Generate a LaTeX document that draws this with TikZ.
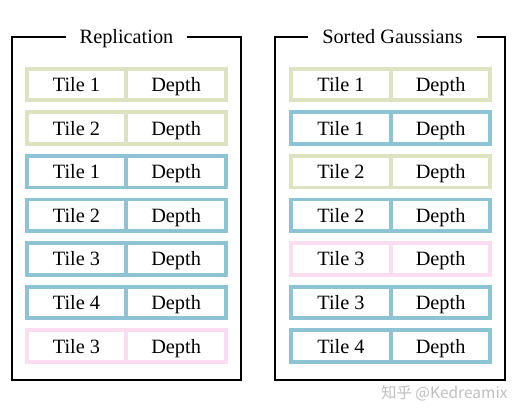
\documentclass[tikz,border=0pt]{standalone}
\usepackage{fontspec}
\setmainfont{Liberation Serif}
\newfontfamily\cjkfont{Noto Sans CJK SC}
\usetikzlibrary{positioning}

\definecolor{oliveedge}{HTML}{DDE2C2}
\definecolor{blueedge}{HTML}{8DC3D5}
\definecolor{pinkedge}{HTML}{FADDF0}

\begin{document}
\begin{tikzpicture}[x=1pt, y=1pt, node distance=43.6pt,
    cell/.style={rectangle, draw, line width=3.8pt, minimum width=99.5pt, minimum height=31.5pt, inner sep=0pt, text height=16pt, text depth=2pt, font=\fontsize{20.3}{24}\selectfont},
    olive/.style={cell, draw=oliveedge},
    blue/.style={cell, draw=blueedge},
    pink/.style={cell, draw=pinkedge},
    frametitle/.style={fill=white, inner xsep=14pt, inner ysep=0pt, text height=16pt, text depth=2pt, font=\fontsize{20.3}{24}\selectfont}]
    \useasboundingbox (0,0) rectangle (524,415);

    % Replication
    \draw[line width=1.5pt] (12,378) rectangle (241,35);
    \node (reptitle) [frametitle] at (126.5,378) {Replication};

    \node (rep1) [olive] at (76.5,330.5) {Tile 1};
    \node (rep2) [olive, below of=rep1] {Tile 2};
    \node (rep3) [blue, below of=rep2] {Tile 1};
    \node (rep4) [blue, below of=rep3] {Tile 2};
    \node (rep5) [blue, below of=rep4] {Tile 3};
    \node (rep6) [blue, below of=rep5] {Tile 4};
    \node (rep7) [pink, below of=rep6] {Tile 3};

    \node (rep1d) [olive, right of=rep1, xshift=56pt] {Depth};
    \node (rep2d) [olive, right of=rep2, xshift=56pt] {Depth};
    \node (rep3d) [blue, right of=rep3, xshift=56pt] {Depth};
    \node (rep4d) [blue, right of=rep4, xshift=56pt] {Depth};
    \node (rep5d) [blue, right of=rep5, xshift=56pt] {Depth};
    \node (rep6d) [blue, right of=rep6, xshift=56pt] {Depth};
    \node (rep7d) [pink, right of=rep7, xshift=56pt] {Depth};

    % Sorted Gaussians
    \draw[line width=1.5pt] (275,378) rectangle (505,35);
    \node (sorttitle) [frametitle] at (392.5,378) {Sorted Gaussians};

    \node (sort1) [olive] at (341,330.5) {Tile 1};
    \node (sort2) [blue, below of=sort1] {Tile 1};
    \node (sort3) [olive, below of=sort2] {Tile 2};
    \node (sort4) [blue, below of=sort3] {Tile 2};
    \node (sort5) [pink, below of=sort4] {Tile 3};
    \node (sort6) [blue, below of=sort5] {Tile 3};
    \node (sort7) [blue, below of=sort6] {Tile 4};

    \node (sort1d) [olive, right of=sort1, xshift=56pt] {Depth};
    \node (sort2d) [blue, right of=sort2, xshift=56pt] {Depth};
    \node (sort3d) [olive, right of=sort3, xshift=56pt] {Depth};
    \node (sort4d) [blue, right of=sort4, xshift=56pt] {Depth};
    \node (sort5d) [pink, right of=sort5, xshift=56pt] {Depth};
    \node (sort6d) [blue, right of=sort6, xshift=56pt] {Depth};
    \node (sort7d) [blue, right of=sort7, xshift=56pt] {Depth};

    \node (mark) [anchor=east, text=black!25, font=\cjkfont\fontsize{15.5}{18}\selectfont] at (511,22) {知乎 @Kedreamix};
\end{tikzpicture}
\end{document}
